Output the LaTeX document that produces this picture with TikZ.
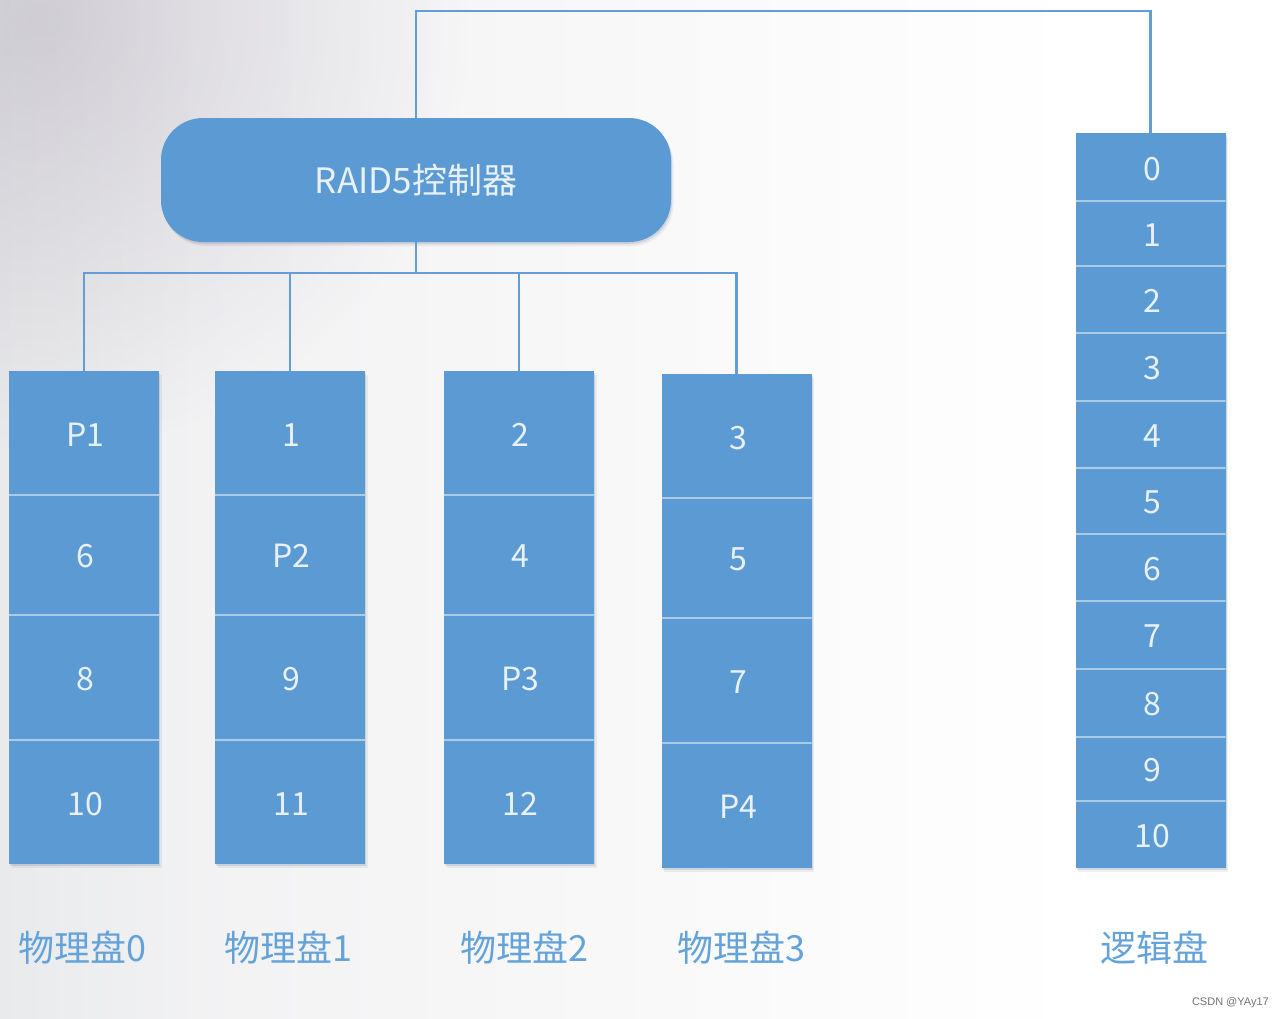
\documentclass[tikz,border=0pt]{standalone}
\usepackage{fontspec}
\setmainfont{Noto Sans CJK SC}
\newfontfamily\wmfont{Liberation Sans}
\usetikzlibrary{shadows,fadings}
\definecolor{cellblue}{RGB}{91,154,211}
\definecolor{wireblue}{RGB}{98,157,213}
\definecolor{celledge}{RGB}{172,202,228}
\definecolor{labelblue}{RGB}{100,163,217}
\definecolor{celltext}{RGB}{232,241,248}
\definecolor{cornertint}{RGB}{150,142,160}
\definecolor{shadowtint}{RGB}{90,110,140}
\pgfdeclarehorizontalshading{pagebg}{100bp}{
  rgb(0bp)=(.875,.875,.88);
  rgb(23bp)=(.905,.91,.915);
  rgb(33bp)=(.95,.95,.955);
  rgb(50bp)=(.975,.975,.978);
  rgb(67bp)=(1,1,1);
  rgb(88bp)=(1,1,1);
  rgb(100bp)=(.965,.965,.973)}
\tikzfading[name=softglow,inner color=transparent!0,outer color=transparent!100]
\tikzset{
  wire/.style={draw=wireblue,line width=2.8pt},
  softshadow/.style={
    drop shadow={shadow xshift=2.5pt,shadow yshift=-4pt,opacity=.10,fill=shadowtint},
    drop shadow={shadow xshift=1pt,shadow yshift=-2pt,opacity=.18,fill=shadowtint}},
  diskcell/.style={fill=cellblue,text=celltext,inner sep=0pt,
    minimum width=150pt,font=\fontsize{32}{32}\selectfont,softshadow},
  sepcell/.style={diskcell,path picture={
    \draw[celledge,line width=4pt] (path picture bounding box.north west) -- (path picture bounding box.north east);}},
  ctrlbox/.style={fill=cellblue,text=celltext,rounded corners=42pt,inner sep=0pt,
    minimum width=510pt,minimum height=124pt,font=\fontsize{35}{35}\selectfont,softshadow},
  disklabel/.style={text=labelblue,inner sep=0pt,font=\fontsize{36}{36}\selectfont},
  mark text/.style={text=black!55,inner sep=0pt,font=\wmfont\fontsize{11}{11}\selectfont}
}
% #1 style, #2 name, #3 x-centre, #4 top, #5 bottom, #6 text
\newcommand{\diskc}[6]{\node[#1,minimum height={#5-#4}] (#2) at (#3,{(#4+#5)/2}) {\hspace*{3pt}\raisebox{-13.5pt}[0pt][0pt]{#6}};}
\begin{document}
\begin{tikzpicture}[x=1pt,y=-1pt]
\useasboundingbox (0,0) rectangle (1284,1018);
\shade[shading=pagebg] (0,0) rectangle (1284,1018);
\begin{scope}
\clip (0,0) rectangle (1284,1018);
\fill[cornertint,opacity=.32,path fading=softglow] (40,20) circle (430);
\end{scope}

% coordinates for wiring
\coordinate (bus) at (416,273);
\coordinate (topbend) at (1151,11);

\node[ctrlbox] (ctrl) at (416,180) {RAID5控制器};

% disk 0
\diskc{diskcell}{a1}{84}{371}{494}{P1}
\diskc{sepcell}{a2}{84}{494}{614}{6}
\diskc{sepcell}{a3}{84}{614}{739}{8}
\diskc{sepcell}{a4}{84}{739}{864}{10}
% disk 1
\diskc{diskcell}{b1}{290}{371}{494}{1}
\diskc{sepcell}{b2}{290}{494}{614}{P2}
\diskc{sepcell}{b3}{290}{614}{739}{9}
\diskc{sepcell}{b4}{290}{739}{864}{11}
% disk 2
\diskc{diskcell}{c1}{519}{371}{494}{2}
\diskc{sepcell}{c2}{519}{494}{614}{4}
\diskc{sepcell}{c3}{519}{614}{739}{P3}
\diskc{sepcell}{c4}{519}{739}{864}{12}
% disk 3
\diskc{diskcell}{d1}{736.5}{374}{497}{3}
\diskc{sepcell}{d2}{736.5}{497}{617}{5}
\diskc{sepcell}{d3}{736.5}{617}{742}{7}
\diskc{sepcell}{d4}{736.5}{742}{868}{P4}
% logical
\diskc{diskcell}{l0}{1150.5}{133}{200}{0}
\diskc{sepcell}{l1}{1150.5}{200}{265}{1}
\diskc{sepcell}{l2}{1150.5}{265}{332}{2}
\diskc{sepcell}{l3}{1150.5}{332}{400}{3}
\diskc{sepcell}{l4}{1150.5}{400}{467}{4}
\diskc{sepcell}{l5}{1150.5}{467}{533}{5}
\diskc{sepcell}{l6}{1150.5}{533}{600}{6}
\diskc{sepcell}{l7}{1150.5}{600}{668}{7}
\diskc{sepcell}{l8}{1150.5}{668}{736}{8}
\diskc{sepcell}{l9}{1150.5}{736}{800}{9}
\diskc{sepcell}{l10}{1150.5}{800}{868}{10}

% connectors
\draw[wire] (ctrl.south) -- (bus);
\draw[wire] (a1.north) |- (bus);
\draw[wire] (b1.north) |- (bus);
\draw[wire] (c1.north) |- (bus);
\draw[wire] (d1.north) |- (bus);
\draw[wire] (ctrl.north) |- (l0.north |- topbend) -- (l0.north);

% labels
\node[disklabel] (la) at (82.5,948) {物理盘0};
\node[disklabel] (lb) at (288.5,948) {物理盘1};
\node[disklabel] (lc) at (524,948) {物理盘2};
\node[disklabel] (ld) at (741.5,948) {物理盘3};
\node[disklabel] (le) at (1154,948) {逻辑盘};
\node[mark text,anchor=east] (wm) at (1269,1003) {CSDN @YAy17};
\end{tikzpicture}
\end{document}
